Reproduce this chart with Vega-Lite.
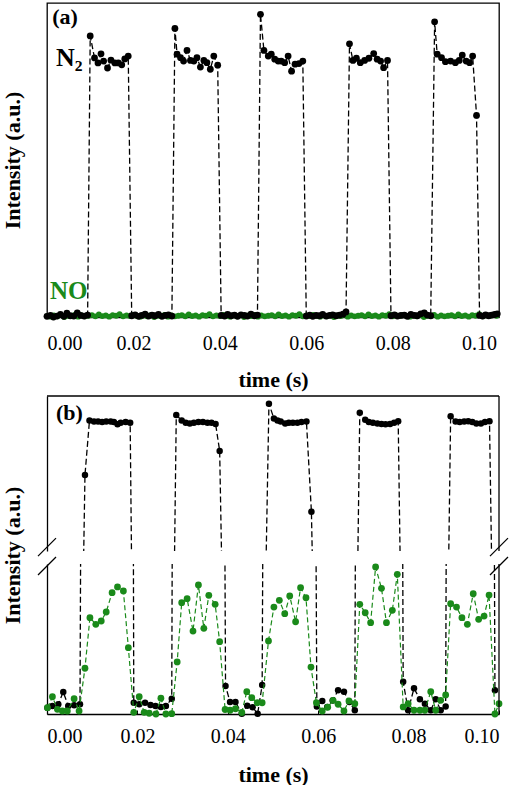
{
"$schema":"https://vega.github.io/schema/vega-lite/v6.json",
"padding":{"top":2,"left":0,"right":0,"bottom":0},
"config":{"view":{"stroke":null},"font":"Liberation Serif",
"axis":{"labelFont":"Liberation Serif","titleFont":"Liberation Serif","labelFontSize":20,"titleFontSize":22,"titleFontWeight":"bold","labelColor":"black","titleColor":"black","domainColor":"black","tickColor":"black","grid":false,"domainWidth":1.3}},
"datasets":{
"a_n2":[{"t":0.0000,"v":0.2},{"t":0.0008,"v":0.5},{"t":0.0015,"v":0.0},{"t":0.0023,"v":0.3},{"t":0.0031,"v":0.8},{"t":0.0039,"v":0.2},{"t":0.0046,"v":1.2},{"t":0.0054,"v":0.4},{"t":0.0062,"v":0.3},{"t":0.0070,"v":1.3},{"t":0.0078,"v":0.5},{"t":0.0086,"v":0.3},{"t":0.0094,"v":0.6},
{"t":0.0100,"v":89.5},{"t":0.0110,"v":82.5},{"t":0.0118,"v":80.9},{"t":0.0125,"v":83.8},{"t":0.0131,"v":81.5},{"t":0.0140,"v":79.3},{"t":0.0148,"v":81.8},{"t":0.0157,"v":80.9},{"t":0.0165,"v":80.9},{"t":0.0173,"v":80.3},{"t":0.0180,"v":82.2},{"t":0.0188,"v":83.1},
{"t":0.0196,"v":0.4},{"t":0.0204,"v":0.7},{"t":0.0212,"v":0.2},{"t":0.0219,"v":0.5},{"t":0.0227,"v":0.9},{"t":0.0235,"v":0.3},{"t":0.0243,"v":0.6},{"t":0.0250,"v":0.4},{"t":0.0258,"v":0.8},{"t":0.0266,"v":0.2},{"t":0.0274,"v":0.5},{"t":0.0281,"v":0.7},{"t":0.0289,"v":0.3},
{"t":0.0296,"v":91.9},{"t":0.0301,"v":83.7},{"t":0.0309,"v":82.6},{"t":0.0316,"v":81.5},{"t":0.0324,"v":84.9},{"t":0.0332,"v":81.7},{"t":0.0340,"v":81.5},{"t":0.0347,"v":82.6},{"t":0.0355,"v":79.6},{"t":0.0363,"v":81.7},{"t":0.0370,"v":81.0},{"t":0.0378,"v":78.9},{"t":0.0386,"v":83.1},{"t":0.0395,"v":80.2},
{"t":0.0403,"v":0.5},{"t":0.0411,"v":0.3},{"t":0.0418,"v":0.8},{"t":0.0426,"v":0.4},{"t":0.0434,"v":0.6},{"t":0.0441,"v":0.2},{"t":0.0449,"v":0.7},{"t":0.0457,"v":0.5},{"t":0.0464,"v":0.3},{"t":0.0472,"v":0.9},{"t":0.0480,"v":0.4},{"t":0.0487,"v":0.6},
{"t":0.0494,"v":96.4},{"t":0.0502,"v":84.9},{"t":0.0512,"v":83.1},{"t":0.0519,"v":83.7},{"t":0.0527,"v":82.1},{"t":0.0535,"v":81.5},{"t":0.0542,"v":81.5},{"t":0.0550,"v":81.0},{"t":0.0558,"v":83.1},{"t":0.0566,"v":78.3},{"t":0.0574,"v":80.5},{"t":0.0583,"v":80.7},{"t":0.0592,"v":81.5},
{"t":0.0600,"v":0.3},{"t":0.0608,"v":0.6},{"t":0.0615,"v":0.2},{"t":0.0623,"v":0.5},{"t":0.0631,"v":0.4},{"t":0.0638,"v":0.8},{"t":0.0646,"v":0.3},{"t":0.0654,"v":0.5},{"t":0.0661,"v":0.7},{"t":0.0669,"v":0.4},{"t":0.0677,"v":0.6},{"t":0.0685,"v":0.9},{"t":0.0692,"v":1.6},
{"t":0.0700,"v":87.0},{"t":0.0708,"v":81.7},{"t":0.0716,"v":82.4},{"t":0.0725,"v":81.0},{"t":0.0735,"v":81.7},{"t":0.0745,"v":82.4},{"t":0.0756,"v":83.9},{"t":0.0764,"v":82.1},{"t":0.0772,"v":81.5},{"t":0.0779,"v":79.4},{"t":0.0788,"v":81.7},
{"t":0.0796,"v":0.4},{"t":0.0804,"v":0.7},{"t":0.0811,"v":0.3},{"t":0.0819,"v":0.5},{"t":0.0827,"v":0.6},{"t":0.0834,"v":0.2},{"t":0.0842,"v":0.8},{"t":0.0850,"v":0.5},{"t":0.0857,"v":0.4},{"t":0.0865,"v":1.0},{"t":0.0873,"v":1.3},{"t":0.0880,"v":0.6},{"t":0.0888,"v":0.4},
{"t":0.0897,"v":94.0},{"t":0.0903,"v":83.7},{"t":0.0913,"v":82.6},{"t":0.0922,"v":81.3},{"t":0.0934,"v":81.5},{"t":0.0945,"v":81.0},{"t":0.0954,"v":81.7},{"t":0.0961,"v":83.4},{"t":0.0970,"v":81.5},{"t":0.0978,"v":81.0},{"t":0.0985,"v":83.1},{"t":0.0994,"v":64.2},
{"t":0.1001,"v":0.5},{"t":0.1008,"v":0.3},{"t":0.1015,"v":0.7},{"t":0.1022,"v":0.4},{"t":0.1029,"v":0.6},{"t":0.1036,"v":0.8},{"t":0.1042,"v":1.0}],
"a_no":[{"t":0.0000,"v":0.3},{"t":0.0008,"v":0.1},{"t":0.0016,"v":0.5},{"t":0.0024,"v":0.2},{"t":0.0032,"v":0.6},{"t":0.0040,"v":0.0},{"t":0.0048,"v":0.4},{"t":0.0056,"v":0.3},{"t":0.0064,"v":0.7},{"t":0.0072,"v":0.1},{"t":0.0080,"v":0.5},{"t":0.0088,"v":0.2},{"t":0.0096,"v":0.4},
{"t":0.0104,"v":0.6},{"t":0.0112,"v":0.2},{"t":0.0120,"v":0.8},{"t":0.0128,"v":0.3},{"t":0.0136,"v":0.5},{"t":0.0144,"v":0.1},{"t":0.0152,"v":0.6},{"t":0.0160,"v":0.4},{"t":0.0168,"v":0.9},{"t":0.0176,"v":0.2},{"t":0.0184,"v":0.5},{"t":0.0192,"v":0.3},{"t":0.0200,"v":0.7},
{"t":0.0208,"v":0.3},{"t":0.0216,"v":0.1},{"t":0.0224,"v":0.5},{"t":0.0232,"v":0.2},{"t":0.0240,"v":0.6},{"t":0.0248,"v":0.0},{"t":0.0256,"v":0.4},{"t":0.0264,"v":0.3},{"t":0.0272,"v":0.7},{"t":0.0280,"v":0.1},{"t":0.0288,"v":0.5},{"t":0.0296,"v":0.2},{"t":0.0304,"v":0.4},
{"t":0.0312,"v":0.6},{"t":0.0320,"v":0.2},{"t":0.0328,"v":0.8},{"t":0.0336,"v":0.3},{"t":0.0344,"v":0.5},{"t":0.0352,"v":0.1},{"t":0.0360,"v":0.6},{"t":0.0368,"v":0.4},{"t":0.0376,"v":0.9},{"t":0.0384,"v":0.2},{"t":0.0392,"v":0.5},{"t":0.0400,"v":0.3},{"t":0.0408,"v":0.7},
{"t":0.0416,"v":0.3},{"t":0.0424,"v":0.1},{"t":0.0432,"v":0.5},{"t":0.0440,"v":0.2},{"t":0.0448,"v":0.6},{"t":0.0456,"v":0.0},{"t":0.0464,"v":0.4},{"t":0.0472,"v":0.3},{"t":0.0480,"v":0.7},{"t":0.0488,"v":0.1},{"t":0.0496,"v":0.5},{"t":0.0504,"v":0.2},{"t":0.0512,"v":0.4},
{"t":0.0520,"v":0.6},{"t":0.0528,"v":0.2},{"t":0.0536,"v":0.8},{"t":0.0544,"v":0.3},{"t":0.0552,"v":0.5},{"t":0.0560,"v":0.1},{"t":0.0568,"v":0.6},{"t":0.0576,"v":0.4},{"t":0.0584,"v":0.9},{"t":0.0592,"v":0.2},{"t":0.0600,"v":0.5},{"t":0.0608,"v":0.3},{"t":0.0616,"v":0.7},
{"t":0.0624,"v":0.3},{"t":0.0632,"v":0.1},{"t":0.0640,"v":0.5},{"t":0.0648,"v":0.2},{"t":0.0656,"v":0.6},{"t":0.0664,"v":0.0},{"t":0.0672,"v":0.4},{"t":0.0680,"v":0.3},{"t":0.0688,"v":0.7},{"t":0.0696,"v":0.1},{"t":0.0704,"v":0.5},{"t":0.0712,"v":0.2},{"t":0.0720,"v":0.4},
{"t":0.0728,"v":0.6},{"t":0.0736,"v":0.2},{"t":0.0744,"v":0.8},{"t":0.0752,"v":0.3},{"t":0.0760,"v":0.5},{"t":0.0768,"v":0.1},{"t":0.0776,"v":0.6},{"t":0.0784,"v":0.4},{"t":0.0792,"v":0.9},{"t":0.0800,"v":0.2},{"t":0.0808,"v":0.5},{"t":0.0816,"v":0.3},{"t":0.0824,"v":0.7},
{"t":0.0832,"v":0.3},{"t":0.0840,"v":0.1},{"t":0.0848,"v":0.5},{"t":0.0856,"v":0.2},{"t":0.0864,"v":0.6},{"t":0.0872,"v":0.0},{"t":0.0880,"v":0.4},{"t":0.0888,"v":0.3},{"t":0.0896,"v":0.7},{"t":0.0904,"v":0.1},{"t":0.0912,"v":0.5},{"t":0.0920,"v":0.2},{"t":0.0928,"v":0.4},
{"t":0.0936,"v":0.6},{"t":0.0944,"v":0.2},{"t":0.0952,"v":0.8},{"t":0.0960,"v":0.3},{"t":0.0968,"v":0.5},{"t":0.0976,"v":0.1},{"t":0.0984,"v":0.6},{"t":0.0992,"v":0.4},{"t":0.1000,"v":0.9},{"t":0.1008,"v":0.2},{"t":0.1016,"v":0.5},{"t":0.1024,"v":0.3},{"t":0.1032,"v":0.7},{"t":0.1040,"v":0.4}],
"b_n2":[{"t":0.0001,"v":0.42},{"t":0.0012,"v":0.53},{"t":0.0025,"v":0.65},{"t":0.0036,"v":1.47},{"t":0.0047,"v":0.53},{"t":0.0060,"v":0.58},{"t":0.0073,"v":0.65},
{"t":0.0084,"v":79.6},{"t":0.0094,"v":93.7},{"t":0.0104,"v":93.4},{"t":0.0113,"v":93.4},{"t":0.0122,"v":93.3},{"t":0.0131,"v":93.4},{"t":0.0141,"v":93.4},{"t":0.0148,"v":93.3},{"t":0.0156,"v":92.7},{"t":0.0163,"v":93.1},{"t":0.0174,"v":93.3},{"t":0.0184,"v":93.1},
{"t":0.0192,"v":0.75},{"t":0.0204,"v":0.65},{"t":0.0217,"v":0.75},{"t":0.0229,"v":0.60},{"t":0.0240,"v":0.53},{"t":0.0252,"v":0.47},{"t":0.0263,"v":0.53},{"t":0.0276,"v":1.02},
{"t":0.0286,"v":95.1},{"t":0.0298,"v":93.7},{"t":0.0307,"v":93.1},{"t":0.0316,"v":92.9},{"t":0.0325,"v":93.1},{"t":0.0335,"v":93.3},{"t":0.0345,"v":93.3},{"t":0.0355,"v":93.1},{"t":0.0364,"v":93.1},{"t":0.0373,"v":92.8},{"t":0.0382,"v":85.8},
{"t":0.0395,"v":1.87},{"t":0.0405,"v":0.80},{"t":0.0417,"v":0.80},{"t":0.0431,"v":0.02},{"t":0.0443,"v":0.55},{"t":0.0455,"v":0.45},{"t":0.0466,"v":0.02},{"t":0.0476,"v":1.93},
{"t":0.0491,"v":98.0},{"t":0.0502,"v":94.2},{"t":0.0510,"v":93.7},{"t":0.0517,"v":93.4},{"t":0.0527,"v":92.9},{"t":0.0535,"v":93.1},{"t":0.0544,"v":93.1},{"t":0.0554,"v":93.1},{"t":0.0563,"v":93.3},{"t":0.0574,"v":93.4},{"t":0.0585,"v":70.1},
{"t":0.0597,"v":0.50},{"t":0.0609,"v":0.87},{"t":0.0620,"v":0.47},{"t":0.0632,"v":0.90},{"t":0.0644,"v":1.58},{"t":0.0657,"v":1.49},{"t":0.0669,"v":0.80},{"t":0.0681,"v":0.25},
{"t":0.0692,"v":95.7},{"t":0.0704,"v":93.9},{"t":0.0712,"v":93.3},{"t":0.0721,"v":93.1},{"t":0.0731,"v":92.9},{"t":0.0740,"v":92.8},{"t":0.0749,"v":92.7},{"t":0.0759,"v":92.8},{"t":0.0768,"v":93.1},{"t":0.0777,"v":93.5},
{"t":0.0788,"v":2.15},{"t":0.0799,"v":0.25},{"t":0.0812,"v":1.71},{"t":0.0825,"v":0.98},{"t":0.0836,"v":0.69},{"t":0.0849,"v":0.25},{"t":0.0860,"v":0.98},{"t":0.0871,"v":0.25},{"t":0.0882,"v":0.50},
{"t":0.0893,"v":94.8},{"t":0.0904,"v":93.4},{"t":0.0913,"v":93.3},{"t":0.0923,"v":93.4},{"t":0.0932,"v":93.5},{"t":0.0941,"v":93.3},{"t":0.0950,"v":92.9},{"t":0.0960,"v":92.9},{"t":0.0969,"v":93.3},{"t":0.0979,"v":93.5},
{"t":0.0991,"v":1.58}],
"b_no":[{"t":0.0001,"v":0.42},{"t":0.0012,"v":1.15},{"t":0.0023,"v":0.31},{"t":0.0034,"v":0.20},{"t":0.0045,"v":0.20},{"t":0.0060,"v":1.02},{"t":0.0071,"v":0.20},
{"t":0.0084,"v":3.05},{"t":0.0095,"v":6.42},{"t":0.0108,"v":5.98},{"t":0.0120,"v":6.20},{"t":0.0131,"v":6.80},{"t":0.0144,"v":8.09},{"t":0.0156,"v":8.47},{"t":0.0169,"v":8.20},{"t":0.0180,"v":4.42},
{"t":0.0192,"v":0.11},{"t":0.0204,"v":1.15},{"t":0.0215,"v":0.11},{"t":0.0226,"v":0.05},{"t":0.0241,"v":0.00},{"t":0.0252,"v":1.05},{"t":0.0263,"v":0.00},{"t":0.0276,"v":0.02},
{"t":0.0288,"v":3.47},{"t":0.0298,"v":7.42},{"t":0.0310,"v":7.69},{"t":0.0323,"v":5.53},{"t":0.0335,"v":8.60},{"t":0.0347,"v":5.71},{"t":0.0358,"v":7.91},{"t":0.0372,"v":7.31},{"t":0.0382,"v":4.82},
{"t":0.0394,"v":0.30},{"t":0.0405,"v":0.25},{"t":0.0417,"v":0.35},{"t":0.0431,"v":0.10},{"t":0.0442,"v":1.49},{"t":0.0453,"v":1.09},{"t":0.0465,"v":0.75},{"t":0.0476,"v":0.75},
{"t":0.0490,"v":4.87},{"t":0.0502,"v":7.13},{"t":0.0514,"v":7.58},{"t":0.0526,"v":6.69},{"t":0.0537,"v":7.87},{"t":0.0550,"v":6.15},{"t":0.0561,"v":8.42},{"t":0.0573,"v":7.75},{"t":0.0584,"v":3.13},
{"t":0.0596,"v":0.75},{"t":0.0609,"v":0.20},{"t":0.0621,"v":0.45},{"t":0.0633,"v":0.91},{"t":0.0644,"v":0.65},{"t":0.0657,"v":0.20},{"t":0.0668,"v":0.87},{"t":0.0681,"v":0.69},
{"t":0.0692,"v":7.31},{"t":0.0704,"v":6.75},{"t":0.0716,"v":6.09},{"t":0.0727,"v":9.80},{"t":0.0740,"v":8.38},{"t":0.0751,"v":6.09},{"t":0.0764,"v":6.91},{"t":0.0775,"v":9.31},
{"t":0.0788,"v":0.47},{"t":0.0799,"v":0.69},{"t":0.0812,"v":0.25},{"t":0.0825,"v":0.25},{"t":0.0836,"v":0.25},{"t":0.0849,"v":1.49},{"t":0.0860,"v":0.25},{"t":0.0871,"v":0.91},{"t":0.0882,"v":1.27},
{"t":0.0893,"v":7.35},{"t":0.0906,"v":7.13},{"t":0.0918,"v":6.42},{"t":0.0930,"v":5.98},{"t":0.0943,"v":8.02},{"t":0.0955,"v":6.31},{"t":0.0967,"v":6.53},{"t":0.0978,"v":7.93},
{"t":0.0991,"v":0.00},{"t":0.1000,"v":0.69}]
},
"bounds":"flush",
"spacing":79,
"vconcat":[
{"width":452,"height":314,
"view":{"stroke":"black","strokeWidth":1.3},
"layer":[
{"data":{"name":"a_no"},"mark":{"type":"line","color":"#1a8a1a","strokeWidth":1.2,"strokeDash":[5,3]},
"encoding":{
"x":{"field":"t","type":"quantitative","scale":{"domain":[0,0.1046],"nice":false},"axis":{"values":[0,0.02,0.04,0.06,0.08,0.1],"format":".2f","title":"time (s)","tickSize":-4,"labelPadding":20,"titlePadding":16}},
"y":{"field":"v","type":"quantitative","scale":{"domain":[0,100],"nice":false},"axis":{"title":"Intensity (a.u.)","labels":false,"ticks":false,"domain":false,"titlePadding":23}}}},
{"data":{"name":"a_no"},"mark":{"type":"circle","color":"#1a8a1a","size":34,"opacity":1},"encoding":{"x":{"field":"t","type":"quantitative"},"y":{"field":"v","type":"quantitative"}}},
{"data":{"name":"a_n2"},"mark":{"type":"line","color":"black","strokeWidth":1.3,"strokeDash":[6,3]},"encoding":{"x":{"field":"t","type":"quantitative"},"y":{"field":"v","type":"quantitative"}}},
{"data":{"name":"a_n2"},"mark":{"type":"circle","color":"black","size":46,"opacity":1},"encoding":{"x":{"field":"t","type":"quantitative"},"y":{"field":"v","type":"quantitative"}}},
{"data":{"values":[{}]},"mark":{"type":"text","text":"(a)","align":"left","baseline":"alphabetic","fontSize":22,"fontWeight":"bold","font":"Liberation Serif","color":"black"},"encoding":{"x":{"datum":0.0012,"type":"quantitative"},"y":{"datum":93.3,"type":"quantitative"}}},
{"data":{"values":[{}]},"mark":{"type":"text","text":"N₂","align":"left","baseline":"alphabetic","fontSize":26,"fontWeight":"bold","font":"Liberation Serif","color":"black"},"encoding":{"x":{"datum":0.0021,"type":"quantitative"},"y":{"datum":79.9,"type":"quantitative"}}},
{"data":{"values":[{}]},"mark":{"type":"text","text":"NO","align":"left","baseline":"alphabetic","fontSize":25,"fontWeight":"bold","font":"Liberation Serif","color":"#1a8a1a"},"encoding":{"x":{"datum":0.0007,"type":"quantitative"},"y":{"datum":5.7,"type":"quantitative"}}}
]},
{"bounds":"flush","spacing":13,
"vconcat":[
{"width":452,"height":155,
"layer":[
{"data":{"name":"b_n2"},"mark":{"type":"line","color":"black","strokeWidth":1.3,"strokeDash":[6,3],"clip":true},
"encoding":{
"x":{"field":"t","type":"quantitative","scale":{"domain":[0,0.1],"nice":false},"axis":null},
"y":{"field":"v","type":"quantitative","scale":{"domain":[60,100],"nice":false,"zero":false},"axis":{"title":"Intensity (a.u.)","labels":false,"ticks":false,"domain":true,"titlePadding":23,"titleY":159}}}},
{"data":{"name":"b_n2"},"transform":[{"filter":"datum.v > 50"}],"mark":{"type":"circle","color":"black","size":42,"opacity":1},"encoding":{"x":{"field":"t","type":"quantitative"},"y":{"field":"v","type":"quantitative"}}},
{"data":{"values":[{}]},"mark":{"type":"rule","color":"black","strokeWidth":1.3},"encoding":{"x":{"datum":0.1,"type":"quantitative"},"y":{"datum":60,"type":"quantitative"},"y2":{"datum":100}}},
{"data":{"values":[{}]},"mark":{"type":"rule","color":"black","strokeWidth":1.3},"encoding":{"x":{"datum":0,"type":"quantitative"},"x2":{"datum":0.1},"y":{"datum":100,"type":"quantitative"}}},
{"data":{"values":[{}]},"mark":{"type":"point","shape":"M -1 1 L 1 -1","filled":false,"stroke":"black","strokeWidth":1.3,"size":324,"opacity":1},"encoding":{"x":{"datum":0,"type":"quantitative"},"y":{"datum":61,"type":"quantitative"}}},
{"data":{"values":[{}]},"mark":{"type":"point","shape":"M -1 1 L 1 -1","filled":false,"stroke":"black","strokeWidth":1.3,"size":324,"opacity":1},"encoding":{"x":{"datum":0.1,"type":"quantitative"},"y":{"datum":61,"type":"quantitative"}}},
{"data":{"values":[{}]},"mark":{"type":"text","text":"(b)","align":"left","baseline":"alphabetic","fontSize":22,"fontWeight":"bold","font":"Liberation Serif","color":"black"},"encoding":{"x":{"datum":0.002,"type":"quantitative"},"y":{"datum":93.8,"type":"quantitative"}}}
]},
{"width":452,"height":150,
"layer":[
{"data":{"name":"b_n2"},"mark":{"type":"line","color":"black","strokeWidth":1.3,"strokeDash":[6,3],"clip":true},
"encoding":{
"x":{"field":"t","type":"quantitative","scale":{"domain":[0,0.1],"nice":false},"axis":{"values":[0,0.02,0.04,0.06,0.08,0.1],"format":".2f","title":"time (s)","tickSize":-4,"labelPadding":16,"titlePadding":18}},
"y":{"field":"v","type":"quantitative","scale":{"domain":[0,10],"nice":false},"axis":{"title":null,"labels":false,"ticks":false,"domain":true}}}},
{"data":{"name":"b_n2"},"transform":[{"filter":"datum.v < 20"}],"mark":{"type":"circle","color":"black","size":42,"opacity":1},"encoding":{"x":{"field":"t","type":"quantitative"},"y":{"field":"v","type":"quantitative"}}},
{"data":{"name":"b_no"},"mark":{"type":"line","color":"#1a8a1a","strokeWidth":1.2,"strokeDash":[5,3],"clip":true},"encoding":{"x":{"field":"t","type":"quantitative"},"y":{"field":"v","type":"quantitative"}}},
{"data":{"name":"b_no"},"mark":{"type":"circle","color":"#1a8a1a","size":46,"opacity":1},"encoding":{"x":{"field":"t","type":"quantitative"},"y":{"field":"v","type":"quantitative"}}},
{"data":{"values":[{}]},"mark":{"type":"rule","color":"black","strokeWidth":1.3},"encoding":{"x":{"datum":0.1,"type":"quantitative"},"y":{"datum":0,"type":"quantitative"},"y2":{"datum":10}}},
{"data":{"values":[{}]},"mark":{"type":"point","shape":"M -1 1 L 1 -1","filled":false,"stroke":"black","strokeWidth":1.3,"size":324,"opacity":1},"encoding":{"x":{"datum":0,"type":"quantitative"},"y":{"datum":9.87,"type":"quantitative"}}},
{"data":{"values":[{}]},"mark":{"type":"point","shape":"M -1 1 L 1 -1","filled":false,"stroke":"black","strokeWidth":1.3,"size":324,"opacity":1},"encoding":{"x":{"datum":0.1,"type":"quantitative"},"y":{"datum":9.87,"type":"quantitative"}}}
]}
]}
]}
